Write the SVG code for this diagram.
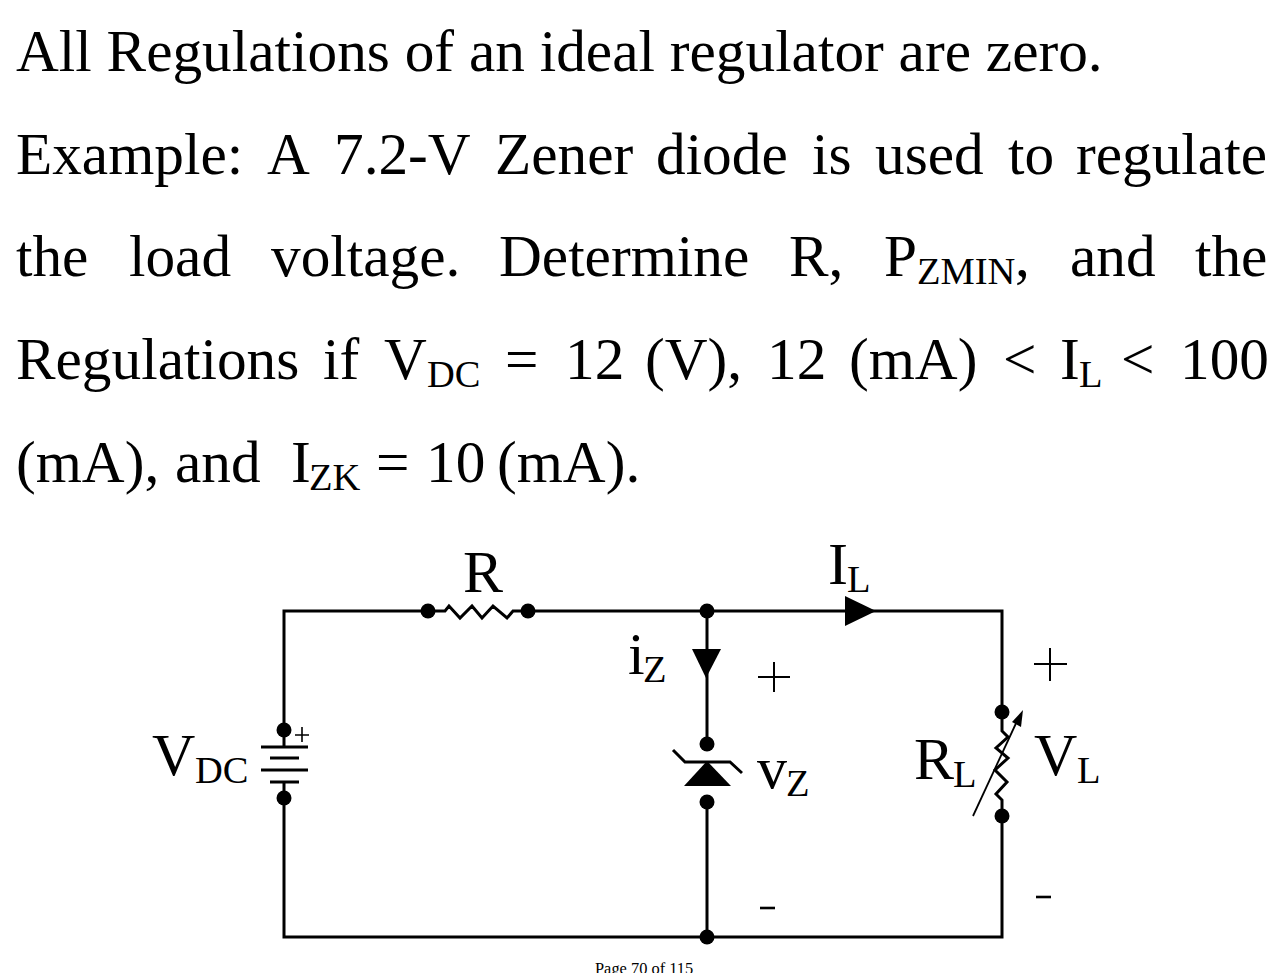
<svg xmlns="http://www.w3.org/2000/svg" width="1280" height="973" viewBox="0 0 1280 973">
<style>
text{font-family:"Liberation Serif","Times New Roman",serif;fill:#000}
.b{font-size:59.3px}
.s{font-size:38.5px}
.d{font-size:60px}
.w{fill:none;stroke:#000;stroke-width:3}
.t{fill:none;stroke:#000;stroke-width:3}
.thin{fill:none;stroke:#000;stroke-width:2}
</style>
<defs><circle id="dot" r="7.5" fill="#000"/></defs>
<rect width="1280" height="973" fill="#fff"/>
<g id="body-text">
<text class="b" x="16" y="71">All Regulations of an ideal regulator are zero.</text>
<text class="b" y="174"><tspan x="16">Example:</tspan><tspan x="267">A</tspan><tspan x="334">7.2-V</tspan><tspan x="495">Zener</tspan><tspan x="656">diode</tspan><tspan x="812">is</tspan><tspan x="875">used</tspan><tspan x="1008">to</tspan><tspan x="1076">regulate</tspan></text>
<text class="b" y="276"><tspan x="16">the</tspan><tspan x="129">load</tspan><tspan x="271">voltage.</tspan><tspan x="499">Determine</tspan><tspan x="789">R,</tspan><tspan x="884">P</tspan><tspan x="917" y="284" class="s">ZMIN</tspan><tspan x="1015" y="276">,</tspan><tspan x="1070">and</tspan><tspan x="1195">the</tspan></text>
<text class="b" y="379"><tspan x="16">Regulations</tspan><tspan x="323">if</tspan><tspan x="384">V</tspan><tspan x="427" y="387" class="s">DC</tspan><tspan x="505" y="379">=</tspan><tspan x="565">12</tspan><tspan x="645">(V),</tspan><tspan x="767">12</tspan><tspan x="849">(mA)</tspan><tspan x="1003">&lt;</tspan><tspan x="1060">I</tspan><tspan x="1079" y="387" class="s">L</tspan><tspan x="1121" y="379">&lt;</tspan><tspan x="1180">100</tspan></text>
<text class="b" y="482"><tspan x="16">(mA),</tspan><tspan x="175">and</tspan><tspan x="291">I</tspan><tspan x="309" y="490" class="s">ZK</tspan><tspan x="376" y="482">=</tspan><tspan x="426">10</tspan><tspan x="497">(mA).</tspan></text>
</g>
<g id="connectors">
<path class="w" d="M284 730V611H428M528 611H1002V712M1002 816V937H284V798M707 611V744M707 802V937"/>
</g>
<g id="battery">
<use href="#dot" x="284" y="730"/><use href="#dot" x="284" y="798"/>
<path class="w" d="M284 730V747M284 782V798M261 747H308M270 758H299M261 770H308M270 782H299"/>
<path d="M302 727V742M295 735H309" stroke="#000" stroke-width="1.6"/>
<text class="d" x="152" y="775">V</text><text class="s" x="195" y="783">DC</text>
</g>
<g id="resistor-R">
<use href="#dot" x="428" y="611"/><use href="#dot" x="528" y="611"/>
<path class="t" d="M428 611H445L449 606L460 618L472 606L482 618L493 606L507 618L513 611H528"/>
<text class="d" x="463" y="592">R</text>
</g>
<g id="current-IL">
<use href="#dot" x="707" y="611"/>
<path d="M845 596L876 611L845 626Z" fill="#000"/>
<text class="d" x="828" y="584">I</text><text class="s" x="847" y="592">L</text>
</g>
<g id="current-iZ">
<path d="M692 649H721L706 678Z" fill="#000"/>
<text class="d" x="628" y="674">i</text><text class="s" x="643" y="682">Z</text>
<path class="thin" d="M774 662V692M758 677H790"/>
</g>
<g id="zener">
<use href="#dot" x="707" y="744"/><use href="#dot" x="707" y="802"/>
<path d="M707 761L731 786H684Z" fill="#000"/>
<path class="t" d="M673 750L685 762H730L742 773"/>
<text class="d" x="757" y="788">v</text><text class="s" x="786" y="796">Z</text>
<path d="M760 908H775" stroke="#000" stroke-width="2.6"/>
<use href="#dot" x="707" y="937"/>
</g>
<g id="load-RL">
<use href="#dot" x="1002" y="712"/><use href="#dot" x="1002" y="816"/>
<path class="t" d="M1002 712V731L1008 737L996 748L1008 758L995 770L1007 782L996 794L1002 800V816"/>
<path d="M973 816L1018 719" stroke="#000" stroke-width="1.8"/>
<path d="M1023 710L1021 727L1012 722Z" fill="#000"/>
<text class="d" x="914" y="779">R</text><text class="s" x="953" y="787">L</text>
<text class="d" x="1034" y="775">V</text><text class="s" x="1077" y="783">L</text>
<path class="thin" d="M1050 648V681M1034 664H1067"/>
<path d="M1036 897H1051" stroke="#000" stroke-width="2.6"/>
</g>
<text id="page" x="595" y="974" font-size="16.4">Page 70 of 115</text>
</svg>
